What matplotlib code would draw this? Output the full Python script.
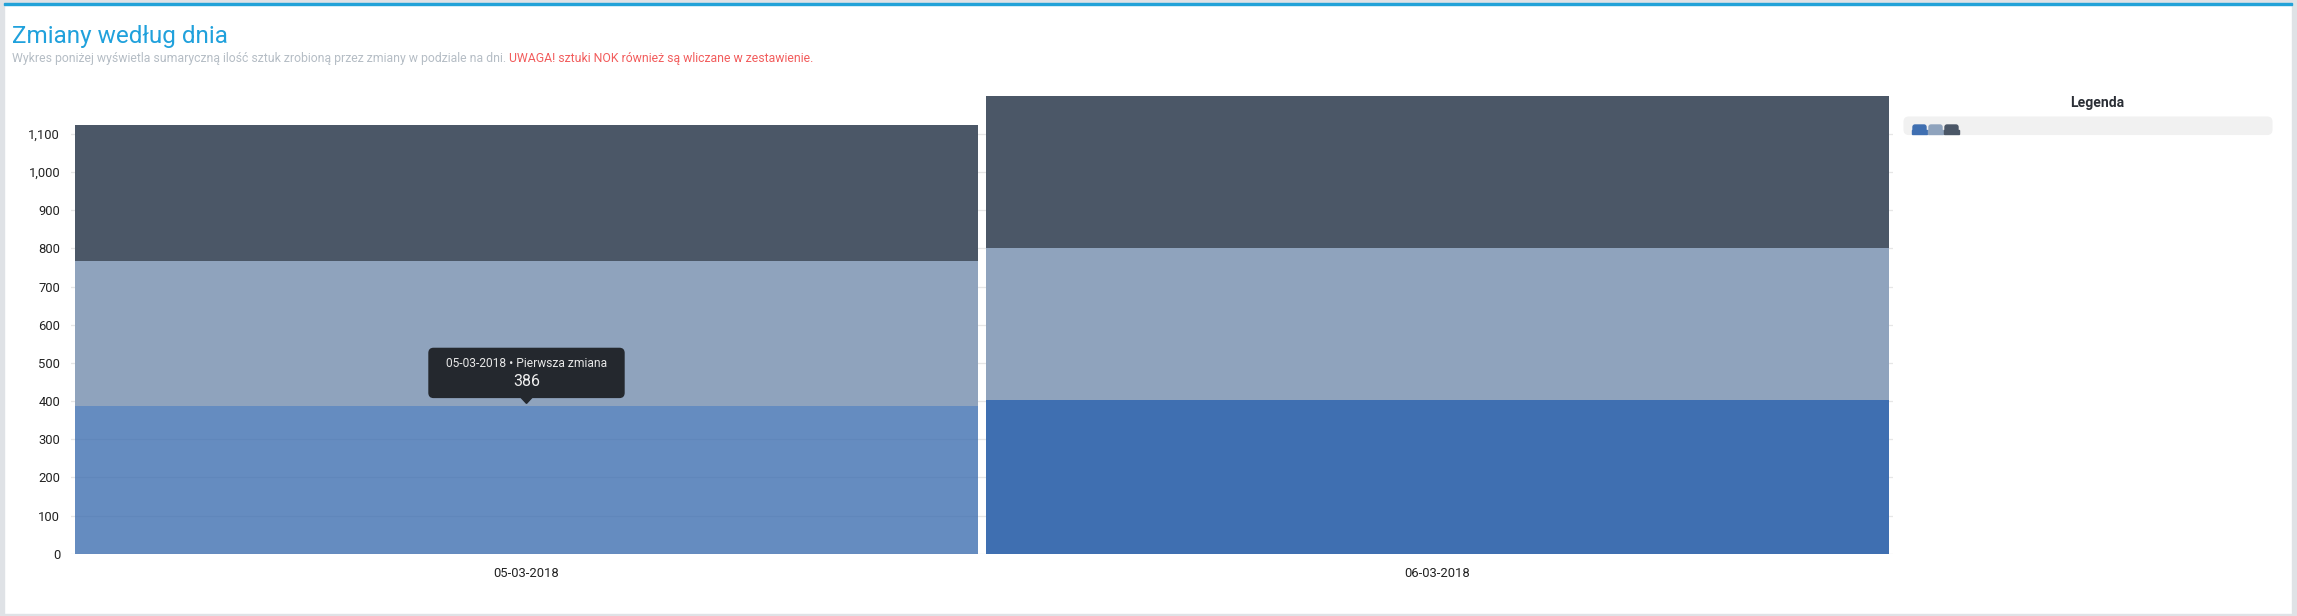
import matplotlib
matplotlib.use("Agg")
import matplotlib.pyplot as plt
from matplotlib.patches import Rectangle, FancyBboxPatch, Polygon
from matplotlib.ticker import FuncFormatter

# ---- data ----
dates = ["05-03-2018", "06-03-2018"]
series_names = ["Pierwsza zmiana", "Druga zmiana", "Trzecia zmiana"]
shift1 = [386, 402]
shift2 = [381, 400]
shift3 = [357, 396]
y_ticks = [0, 100, 200, 300, 400, 500, 600, 700, 800, 900, 1000, 1100]

title = "Zmiany według dnia"
subtitle_grey = "Wykres poniżej wyświetla sumaryczną ilość sztuk zrobioną przez zmiany w podziale na dni. "
subtitle_red = "UWAGA! sztuki NOK również są wliczane w zestawienie."
legend_title = "Legenda"

colors = ["#3f6fb1", "#8fa3bd", "#4b5767"]

W, H = 2297, 616
plt.rcParams["font.family"] = ["Roboto", "DejaVu Sans"]
fig = plt.figure(figsize=(W / 100, H / 100), dpi=100)
fig.patch.set_facecolor("white")


def fx(x):
    return x / W


def fy(y):
    return 1 - y / H


def px(v):
    return v * 0.72  # px -> pt at dpi 100


# frame
frame_col = "#dfe2e6"
fig.patches.append(Rectangle((0, 0), fx(4), 1, transform=fig.transFigure, color=frame_col, zorder=0))
fig.patches.append(Rectangle((fx(2292), 0), fx(5), 1, transform=fig.transFigure, color=frame_col, zorder=0))
fig.patches.append(Rectangle((0, fy(616)), 1, 2 / H, transform=fig.transFigure, color=frame_col, zorder=0))
fig.patches.append(Rectangle((0, fy(3)), 1, 3 / H, transform=fig.transFigure, color=frame_col, zorder=0))
fig.patches.append(Rectangle((fx(4), fy(5.3)), fx(2288), 2.3 / H, transform=fig.transFigure, color="#22a2d8", zorder=1))

# titles
fig.text(fx(12), fy(43.3), title, fontsize=px(24.3), color="#20a1dc", va="baseline", ha="left")
t1 = fig.text(fx(12), fy(62.3), subtitle_grey, fontsize=px(12.2), color="#b5bdc5", va="baseline", ha="left")
fig.canvas.draw()
bb = t1.get_window_extent()
fig.text(bb.x1 / W, fy(62.3), subtitle_red, fontsize=px(12.2), color="#f25d5d", va="baseline", ha="left")

# axes
y0_px, top_px = 553.8, 95.6
ax = fig.add_axes([fx(71), (H - y0_px) / H, fx(1822), (y0_px - top_px) / H])
ax.set_xlim(-0.5, 1.5)
ax.set_ylim(0, 1200)
for s in ax.spines.values():
    s.set_visible(False)
ax.set_facecolor("white")
ax.set_yticks(y_ticks)
ax.yaxis.set_major_formatter(FuncFormatter(lambda v, p: f"{int(v):,}"))
ax.tick_params(axis="y", length=0, pad=px(11), labelsize=px(13), labelcolor="#222222")
ax.set_xticks(range(len(dates)))
ax.set_xticklabels(dates)
ax.tick_params(axis="x", length=0, pad=px(13), labelsize=px(13), labelcolor="#222222")
ax.grid(axis="y", color="#e6e6e6", linewidth=0.9)
ax.set_axisbelow(True)

xs = list(range(len(dates)))
bw = 903 / 911
bottoms = [0] * len(dates)
for i, (vals, col) in enumerate(zip([shift1, shift2, shift3], colors)):
    for j, x in enumerate(xs):
        alpha = 0.8 if (i == 0 and j == 0) else 1.0
        ax.bar(x, vals[j], width=bw, bottom=bottoms[j], color=col, alpha=alpha, zorder=2, linewidth=0)
    bottoms = [b + v for b, v in zip(bottoms, vals)]

# legend
fig.text(fx(2097), fy(103), legend_title, fontsize=px(14), fontweight="bold", color="#2b2f36",
         ha="center", va="center")
fig.patches.append(FancyBboxPatch((fx(1906), fy(132.5)), fx(364), 13.5 / H,
                                  boxstyle="round,pad=0.0008,rounding_size=0.002",
                                  transform=fig.transFigure, color="#f1f1f1", zorder=1,
                                  mutation_aspect=W / H))
for k, col in enumerate(colors):
    x0 = 1912 + 16 * k
    fig.patches.append(FancyBboxPatch((fx(x0 + 1), fy(133.5)), fx(13), 8.5 / H,
                                      boxstyle="round,pad=0.0,rounding_size=0.0009",
                                      transform=fig.transFigure, color=col, zorder=2,
                                      mutation_aspect=W / H))
    fig.patches.append(Rectangle((fx(x0), fy(134.3)), fx(15), 4 / H,
                                 transform=fig.transFigure, color=col, zorder=2))

# tooltip anchored at first bar, first series
fig.canvas.draw()
ax_pt = ax.transData.transform((xs[0], shift1[0]))
tip_x = ax_pt[0]
tip_y = ax_pt[1] + 3  # display px from bottom
box_w, box_h = 195, 49
box_bottom = tip_y + 6
tcol = "#24282e"
fig.patches.append(FancyBboxPatch(((tip_x - box_w / 2) / W, box_bottom / H), box_w / W, box_h / H,
                                  boxstyle="round,pad=0,rounding_size=0.002",
                                  transform=fig.transFigure, color=tcol, zorder=5,
                                  mutation_aspect=W / H))
fig.patches.append(Polygon([((tip_x - 6) / W, (box_bottom + 0.5) / H), ((tip_x + 6) / W, (box_bottom + 0.5) / H),
                            (tip_x / W, tip_y / H)], closed=True, transform=fig.transFigure,
                           color=tcol, zorder=5))
fig.text(tip_x / W, (box_bottom + box_h - 15) / H, f"{dates[0]} \u2022 {series_names[0]}",
         fontsize=px(12), color="#e8e8e8", ha="center", va="center", zorder=6)
fig.text(tip_x / W, (box_bottom + box_h - 33) / H, f"{shift1[0]}",
         fontsize=px(16), color="#f0f0f0", ha="center", va="center", zorder=6)

fig.savefig("out.png", dpi=100, facecolor="white")
